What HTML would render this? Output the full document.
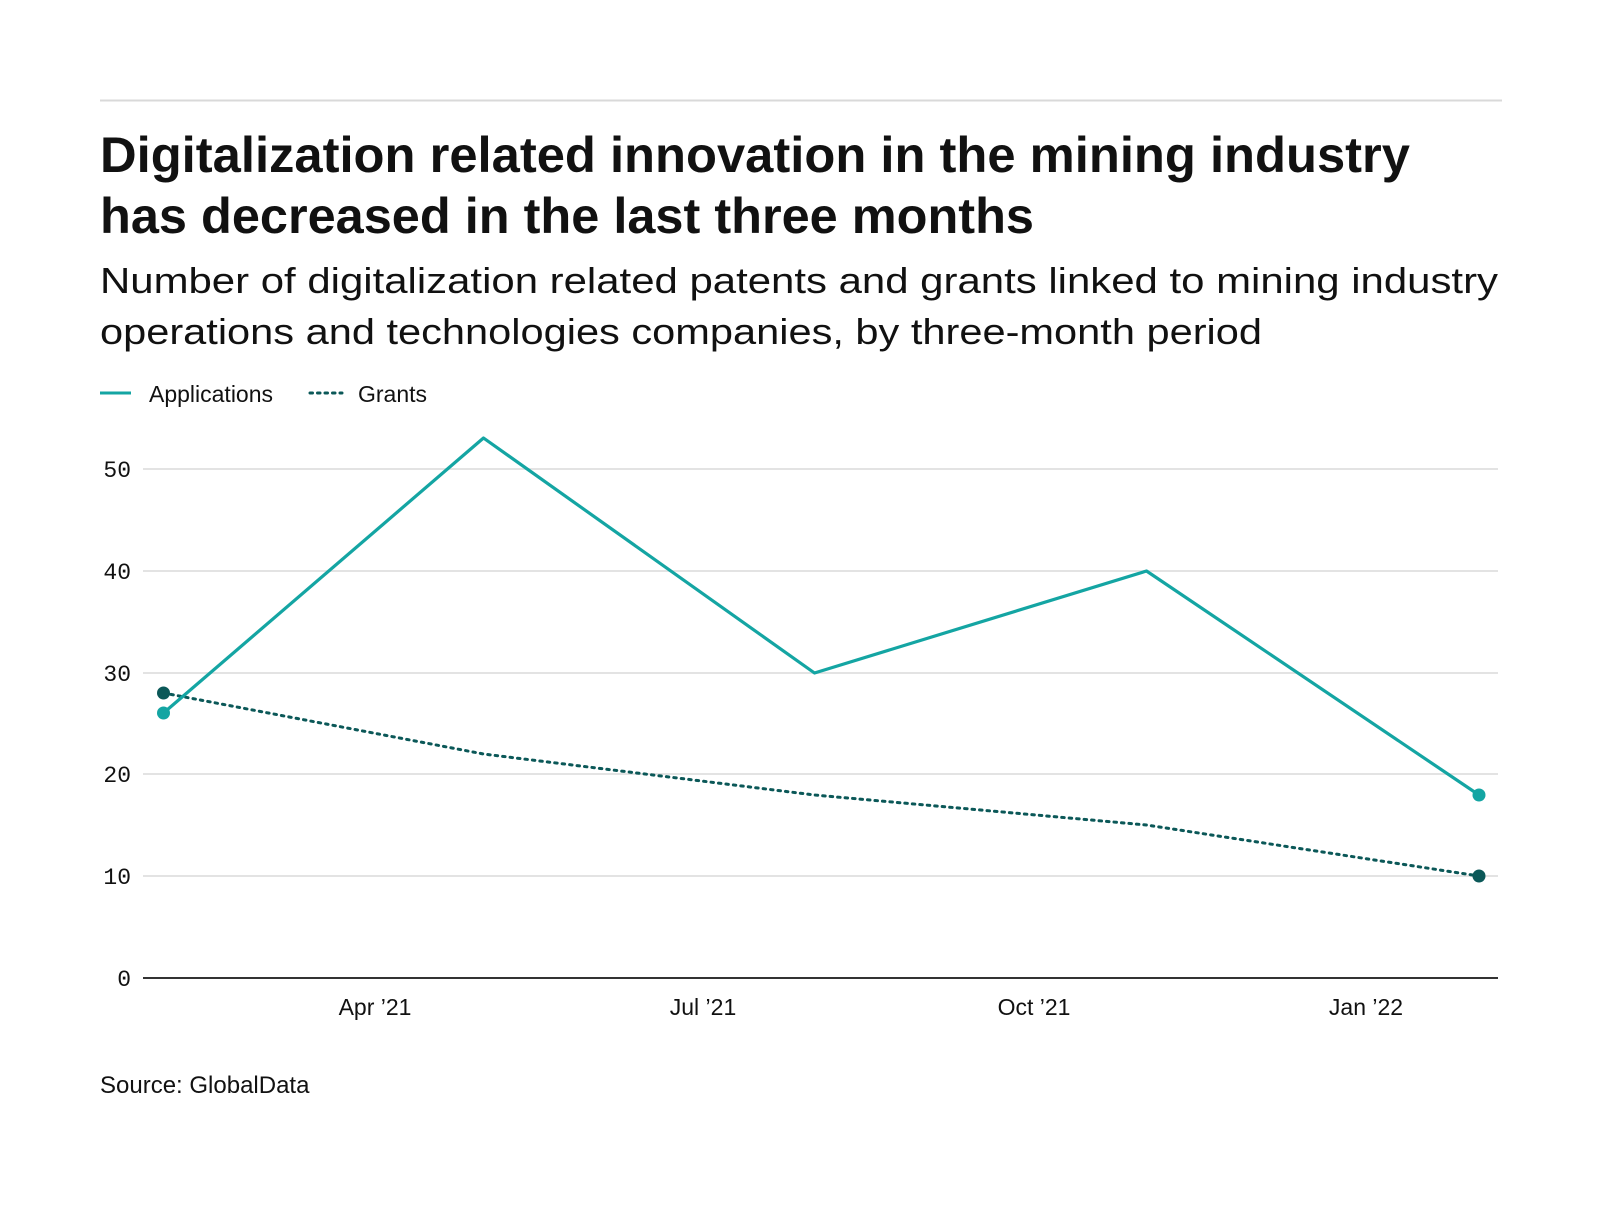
<!DOCTYPE html>
<html><head><meta charset="utf-8"><style>html,body{margin:0;padding:0;background:#fff}</style></head>
<body>
<svg width="1600" height="1200" xmlns="http://www.w3.org/2000/svg" font-family="Liberation Sans, sans-serif">
<line x1="100" y1="100.5" x2="1502" y2="100.5" stroke="#d9d9d9" stroke-width="2"/>
<text x="100" y="172" font-size="50" font-weight="bold" fill="#111" textLength="1310" lengthAdjust="spacingAndGlyphs">Digitalization related innovation in the mining industry</text>
<text x="100" y="233" font-size="50" font-weight="bold" fill="#111" textLength="934" lengthAdjust="spacingAndGlyphs">has decreased in the last three months</text>
<text x="100" y="293" font-size="36" fill="#111" textLength="1398" lengthAdjust="spacingAndGlyphs">Number of digitalization related patents and grants linked to mining industry</text>
<text x="100" y="344" font-size="36" fill="#111" textLength="1162" lengthAdjust="spacingAndGlyphs">operations and technologies companies, by three-month period</text>
<line x1="100" y1="393" x2="131" y2="393" stroke="#14a5a3" stroke-width="3"/>
<text x="149" y="402" font-size="23" fill="#111">Applications</text>
<line x1="310" y1="393" x2="342" y2="393" stroke="#0b5858" stroke-width="3" stroke-dasharray="2.5,5" stroke-linecap="round"/>
<text x="358" y="402" font-size="23" fill="#111">Grants</text>
<g stroke="#e3e3e3" stroke-width="2">
<line x1="143" y1="469" x2="1498" y2="469"/>
<line x1="143" y1="571" x2="1498" y2="571"/>
<line x1="143" y1="673" x2="1498" y2="673"/>
<line x1="143" y1="774" x2="1498" y2="774"/>
<line x1="143" y1="876" x2="1498" y2="876"/>
</g>
<line x1="143" y1="978" x2="1498" y2="978" stroke="#333" stroke-width="2"/>
<g font-family="Liberation Mono, monospace" font-size="23" fill="#111" text-anchor="end">
<text x="131" y="477">50</text><text x="131" y="579">40</text><text x="131" y="681">30</text>
<text x="131" y="782">20</text><text x="131" y="884">10</text><text x="131" y="986">0</text>
</g>
<g font-size="23" fill="#111" text-anchor="middle">
<text x="375" y="1015">Apr ’21</text><text x="703" y="1015">Jul ’21</text>
<text x="1034" y="1015">Oct ’21</text><text x="1366" y="1015">Jan ’22</text>
</g>
<polyline fill="none" stroke="#0b5858" stroke-width="3" stroke-dasharray="2.5,5" stroke-linecap="round"
 points="163.5,693 483.5,754 814.5,795 1146.5,825 1479,876"/>
<polyline fill="none" stroke="#14a5a3" stroke-width="3.2" stroke-linejoin="round"
 points="163.5,713 483.5,438 814.5,673 1146.5,571 1479,795"/>
<circle cx="163.5" cy="713" r="6.5" fill="#14a5a3"/><circle cx="1479" cy="795" r="6.5" fill="#14a5a3"/>
<circle cx="163.5" cy="693" r="6.5" fill="#0b5858"/><circle cx="1479" cy="876" r="6.5" fill="#0b5858"/>
<text x="100" y="1093" font-size="24" fill="#111">Source: GlobalData</text>
</svg>
</body></html>
